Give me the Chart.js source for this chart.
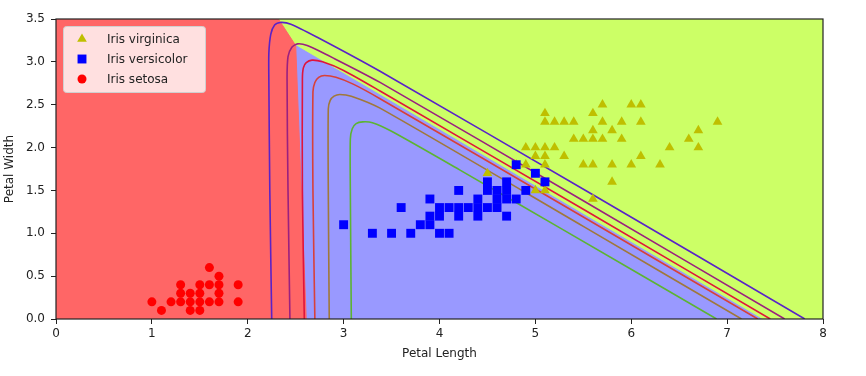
<!DOCTYPE html>
<html>
<head>
<meta charset="utf-8">
<script src="https://cdn.jsdelivr.net/npm/chart.js@4.4.1/dist/chart.umd.min.js"></script>
<style>
  body { margin: 0; background: #fff; }
</style>
</head>
<body>
<canvas id="myChart" width="866" height="376"></canvas>
<script>
// iris petal measurements [length, width]
const virginica = [[6.0,2.5],[5.1,1.9],[5.9,2.1],[5.6,1.8],[5.8,2.2],[6.6,2.1],[4.5,1.7],[6.3,1.8],[5.8,1.8],[6.1,2.5],
  [5.1,2.0],[5.3,1.9],[5.5,2.1],[5.0,2.0],[5.1,2.4],[5.3,2.3],[5.5,1.8],[6.7,2.2],[6.9,2.3],[5.0,1.5],
  [5.7,2.3],[4.9,2.0],[6.7,2.0],[4.9,1.8],[5.7,2.1],[6.0,1.8],[4.8,1.8],[5.6,2.1],[5.8,1.6],[6.1,1.9],
  [6.4,2.0],[5.6,2.2],[5.1,1.5],[5.6,1.4],[6.1,2.3],[5.6,2.4],[5.4,2.1],[5.1,2.3],[5.9,2.3],[5.7,2.5],
  [5.2,2.3],[5.0,1.9],[5.2,2.0],[5.4,2.3],[5.1,1.8]];
const versicolor = [[4.7,1.4],[4.5,1.5],[4.9,1.5],[4.0,1.3],[4.6,1.5],[4.5,1.3],[4.7,1.6],[3.3,1.0],[4.6,1.3],[3.9,1.4],
  [3.5,1.0],[4.2,1.5],[4.0,1.0],[3.6,1.3],[4.4,1.4],[4.1,1.0],[3.9,1.1],[4.8,1.8],[4.7,1.2],[4.3,1.3],
  [4.8,1.4],[5.0,1.7],[3.8,1.1],[3.7,1.0],[3.9,1.2],[5.1,1.6],[4.5,1.6],[4.7,1.5],[4.4,1.3],[4.1,1.3],
  [4.4,1.2],[4.6,1.4],[4.0,1.2],[4.2,1.3],[4.2,1.2],[3.0,1.1]];
const setosa = [[1.0,0.2],[1.1,0.1],[1.2,0.2],[1.3,0.2],[1.3,0.3],[1.3,0.4],[1.4,0.1],[1.4,0.2],[1.4,0.3],[1.5,0.1],
  [1.5,0.2],[1.5,0.3],[1.5,0.4],[1.6,0.2],[1.6,0.4],[1.6,0.6],[1.7,0.2],[1.7,0.3],[1.7,0.4],[1.7,0.5],
  [1.9,0.2],[1.9,0.4]];

// predicted class regions (boundary outlines, filled down to 0)
const virginicaRegion = [[0,3.5],[8,3.5]];
const versicolorRegion = [[2.50,3.19],[7.36,0]];
const setosaRegion = [[0,3.5],[2.32,3.5],[2.50,3.19],[2.61,0]];

// contour lines of versicolor probability, outermost first
const contour1 = [[2.25,0],[2.23,1.5],[2.22,2.8],[2.22,3.1],[2.24,3.32],[2.28,3.43],[2.34,3.46],[2.45,3.44],[2.72,3.29],[3.38,2.89],[5.6,1.45],[7.81,0]];
const contour2 = [[2.44,0],[2.42,1.5],[2.41,2.8],[2.42,3.06],[2.46,3.17],[2.52,3.21],[2.62,3.19],[2.9,3.04],[3.38,2.76],[5.5,1.38],[7.60,0]];
const contour3 = [[2.59,0],[2.57,1.5],[2.57,2.8],[2.58,2.93],[2.61,2.99],[2.67,3.02],[2.78,3.0],[3.0,2.9],[3.38,2.66],[5.5,1.28],[7.45,0]];
const contour4 = [[2.70,0],[2.68,1.5],[2.68,2.65],[2.70,2.76],[2.74,2.82],[2.80,2.84],[2.92,2.82],[3.1,2.74],[3.38,2.57],[5.5,1.19],[7.32,0]];
const contour5 = [[2.85,0],[2.84,1.5],[2.84,2.45],[2.86,2.55],[2.90,2.60],[2.96,2.62],[3.08,2.60],[3.38,2.46],[5.5,1.08],[7.15,0]];
const contour6 = [[3.08,0],[3.07,1.5],[3.07,2.1],[3.09,2.22],[3.13,2.28],[3.20,2.30],[3.30,2.29],[3.5,2.19],[4.21,1.74],[5.26,1.06],[6.89,0]];
const contourColors = ['#5a22c8','#9a2080','#e0143c','#d8403a','#a0783a','#5cb432'];

const xTickLabels = ['0','1','2','3','4','5','6','7','8'];
const yTickLabels = ['0.0','0.5','1.0','1.5','2.0','2.5','3.0','3.5'];

const toXY = arr => arr.map(p => ({x: p[0], y: p[1]}));

Chart.defaults.font.family = 'DejaVu Sans';
Chart.defaults.font.size = 12;
Chart.defaults.color = '#222';

function region(data, color, order) {
  return {
    data: toXY(data), showLine: true, pointRadius: 0, borderWidth: 1,
    borderColor: color, backgroundColor: color, fill: 'origin', order: order
  };
}

function contour(data, color) {
  return {
    data: toXY(data), showLine: true, pointRadius: 0, borderWidth: 1.6,
    borderColor: color, fill: false, tension: 0.25, order: 5
  };
}

function markers(label, data, style, color, radius, order) {
  return {
    label: label, inLegend: true, data: toXY(data), pointStyle: style,
    pointRadius: radius, pointBackgroundColor: color, backgroundColor: color,
    pointBorderWidth: 0, borderWidth: 0, order: order
  };
}

// legend box drawn inside the plot (upper left)
const legendBox = {
  id: 'legendBox',
  afterDraw(chart) {
    const {ctx, chartArea} = chart;
    const items = chart.data.datasets.filter(d => d.inLegend);
    const x = chartArea.left + 7, y = chartArea.top + 7, w = 142, h = 66;
    ctx.save();
    ctx.beginPath();
    ctx.roundRect(x + 0.5, y + 0.5, w, h, 3);
    ctx.fillStyle = 'rgba(255,255,255,0.8)';
    ctx.fill();
    ctx.strokeStyle = '#d0d0d0';
    ctx.lineWidth = 1;
    ctx.stroke();
    items.forEach((d, i) => {
      const cy = y + 13 + i * 20;
      ctx.fillStyle = d.pointBackgroundColor;
      Chart.helpers.drawPoint(ctx, {pointStyle: d.pointStyle, radius: d.pointRadius, borderWidth: 0, rotation: 0}, x + 19, cy);
      ctx.fillStyle = '#222';
      ctx.font = '12px "DejaVu Sans"';
      ctx.textBaseline = 'middle';
      ctx.fillText(d.label, x + 44, cy + 1);
    });
    ctx.restore();
  }
};

// frame around plot area
const frame = {
  id: 'frame',
  afterDatasetsDraw(chart) {
    const {ctx, chartArea} = chart;
    ctx.save();
    ctx.strokeStyle = '#222';
    ctx.lineWidth = 1.2;
    ctx.strokeRect(chartArea.left, chartArea.top, chartArea.right - chartArea.left, chartArea.bottom - chartArea.top);
    ctx.restore();
  }
};

const ctx = document.getElementById('myChart');

let myChart = new Chart(ctx, {
  type: 'scatter',
  data: {
    datasets: [
      markers('Iris virginica', virginica, 'triangle', '#bfbf00', 5.6, 3),
      markers('Iris versicolor', versicolor, 'rect', '#0000ff', 6.3, 2),
      markers('Iris setosa', setosa, 'circle', '#ff0000', 4.5, 1),
      contour(contour1, contourColors[0]),
      contour(contour2, contourColors[1]),
      contour(contour3, contourColors[2]),
      contour(contour4, contourColors[3]),
      contour(contour5, contourColors[4]),
      contour(contour6, contourColors[5]),
      region(setosaRegion, '#ff6666', 8),
      region(versicolorRegion, '#9999ff', 9),
      region(virginicaRegion, '#ccff66', 10)
    ]
  },
  options: {
    responsive: false,
    animation: false,
    events: [],
    devicePixelRatio: 1,
    layout: { padding: { left: 0, top: 19, right: 43, bottom: 0 } },
    plugins: {
      legend: { display: false },
      tooltip: { enabled: false }
    },
    scales: {
      x: {
        min: 0, max: 8,
        afterFit(scale) { scale.height = 57; },
        ticks: { stepSize: 1, padding: 3, color: '#222', callback: (v, i) => xTickLabels[i] },
        grid: { display: true, drawOnChartArea: false, drawTicks: true, tickLength: 5, tickColor: '#222' },
        border: { display: false },
        title: { display: true, text: 'Petal Length', color: '#222', padding: { top: 0, bottom: 15 } }
      },
      y: {
        min: 0, max: 3.5,
        afterFit(scale) { scale.width = 56; },
        ticks: { stepSize: 0.5, padding: 6, color: '#222', callback: (v, i) => yTickLabels[i] },
        grid: { display: true, drawOnChartArea: false, drawTicks: true, tickLength: 5, tickColor: '#222' },
        border: { display: false },
        title: { display: true, text: 'Petal Width', color: '#222', padding: { top: 3, bottom: 0 } }
      }
    }
  },
  plugins: [legendBox, frame]
});
</script>
</body>
</html>
